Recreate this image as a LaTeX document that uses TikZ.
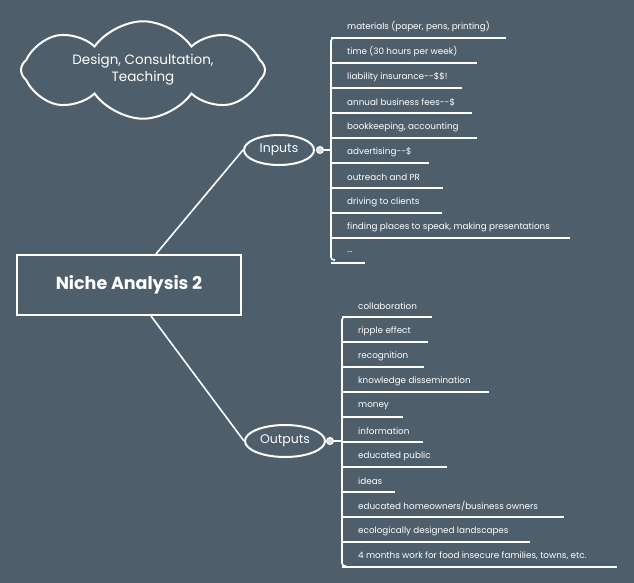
\documentclass[tikz,border=0pt]{standalone}
\usepackage{fontspec}
\setmainfont{Poppins}
\usetikzlibrary{shapes.symbols,shapes.geometric}
\definecolor{bg}{HTML}{4F5E6B}
\begin{document}
\begin{tikzpicture}[x=1pt,y=-1pt,
  ln/.style={white,line width=1.6pt},
  item/.style={anchor=west,text=white,font=\fontsize{8.8}{10}\selectfont,inner sep=0pt},
  topic/.style={ellipse,draw=white,line width=2pt,text=white,font=\fontsize{12.5}{14}\selectfont,inner sep=1pt}]
\fill[bg] (0,0) rectangle (634,583);
\useasboundingbox (0,0) rectangle (634,583);
\node[draw=white,line width=2pt,minimum width=224pt,minimum height=60pt,text=white,font=\bfseries\fontsize{17.5}{20}\selectfont] (root) at (129,285) {Niche Analysis 2};
\node[cloud,cloud puffs=8,cloud puff arc=110,aspect=3.2,draw=white,line width=2pt,minimum width=244pt,minimum height=74pt,inner sep=0pt,align=center,text=white,font=\fontsize{13.5}{17}\selectfont] (cl) at (143,70) {Design, Consultation,\\Teaching};
\node[topic,minimum width=70pt,minimum height=30pt] (in) at (279,150) {Inputs};
\node[topic,minimum width=80pt,minimum height=32pt] (out) at (285,441) {Outputs};
\draw[ln] (root.north east) ++(-86,0) coordinate (r1) -- (in.west);
\draw[ln] (root.south east) ++(-91,0) coordinate (r2) -- (out.west);
\node[circle,fill=white!80!bg,draw=white,line width=1pt,inner sep=0pt,minimum size=7pt] (cin) at (320,150) {};
\node[circle,fill=white!80!bg,draw=white,line width=1pt,inner sep=0pt,minimum size=7pt] (cout) at (330,441) {};
\coordinate (bi) at (331,150);
\coordinate (bo) at (342,441);
\draw[ln] (cin) -- (bi);
\draw[ln] (cout) -- (bo);
\draw[ln,rounded corners=3pt] (335,38) -- (331,38) -- (331,260) -- (335,260);
\draw[ln,rounded corners=3pt] (346,317) -- (342,317) -- (342,566) -- (346,566);
\foreach \e/\t [count=\i from 0] in {506/{materials (paper, pens, printing)},477/{time (30 hours per week)},462/{liability insurance{-}{-}\$\$!},472/{annual business fees{-}{-}\$},477/{bookkeeping, accounting},429/{advertising{-}{-}\$},443/{outreach and PR},442/{driving to clients},570/{finding places to speak, making presentations},365/{...}}{
  \node[item] (a\i) at (347,{27+25*\i}) {\t};
  \draw[ln] (331,{38+25*\i}) -- (\e,{38+25*\i});
}
\foreach \e/\t [count=\i from 0] in {432/{collaboration},428/{ripple effect},424/{recognition},489/{knowledge dissemination},403/{money},423/{information},447/{educated public},395/{ideas},564/{educated homeowners/business owners},530/{ecologically designed landscapes},617/{4 months work for food insecure families, towns, etc.}}{
  \node[item] (b\i) at (358,{306+25*\i}) {\t};
  \draw[ln] (342,{317+25*\i}) -- (\e,{317+25*\i});
}
\end{tikzpicture}
\end{document}
